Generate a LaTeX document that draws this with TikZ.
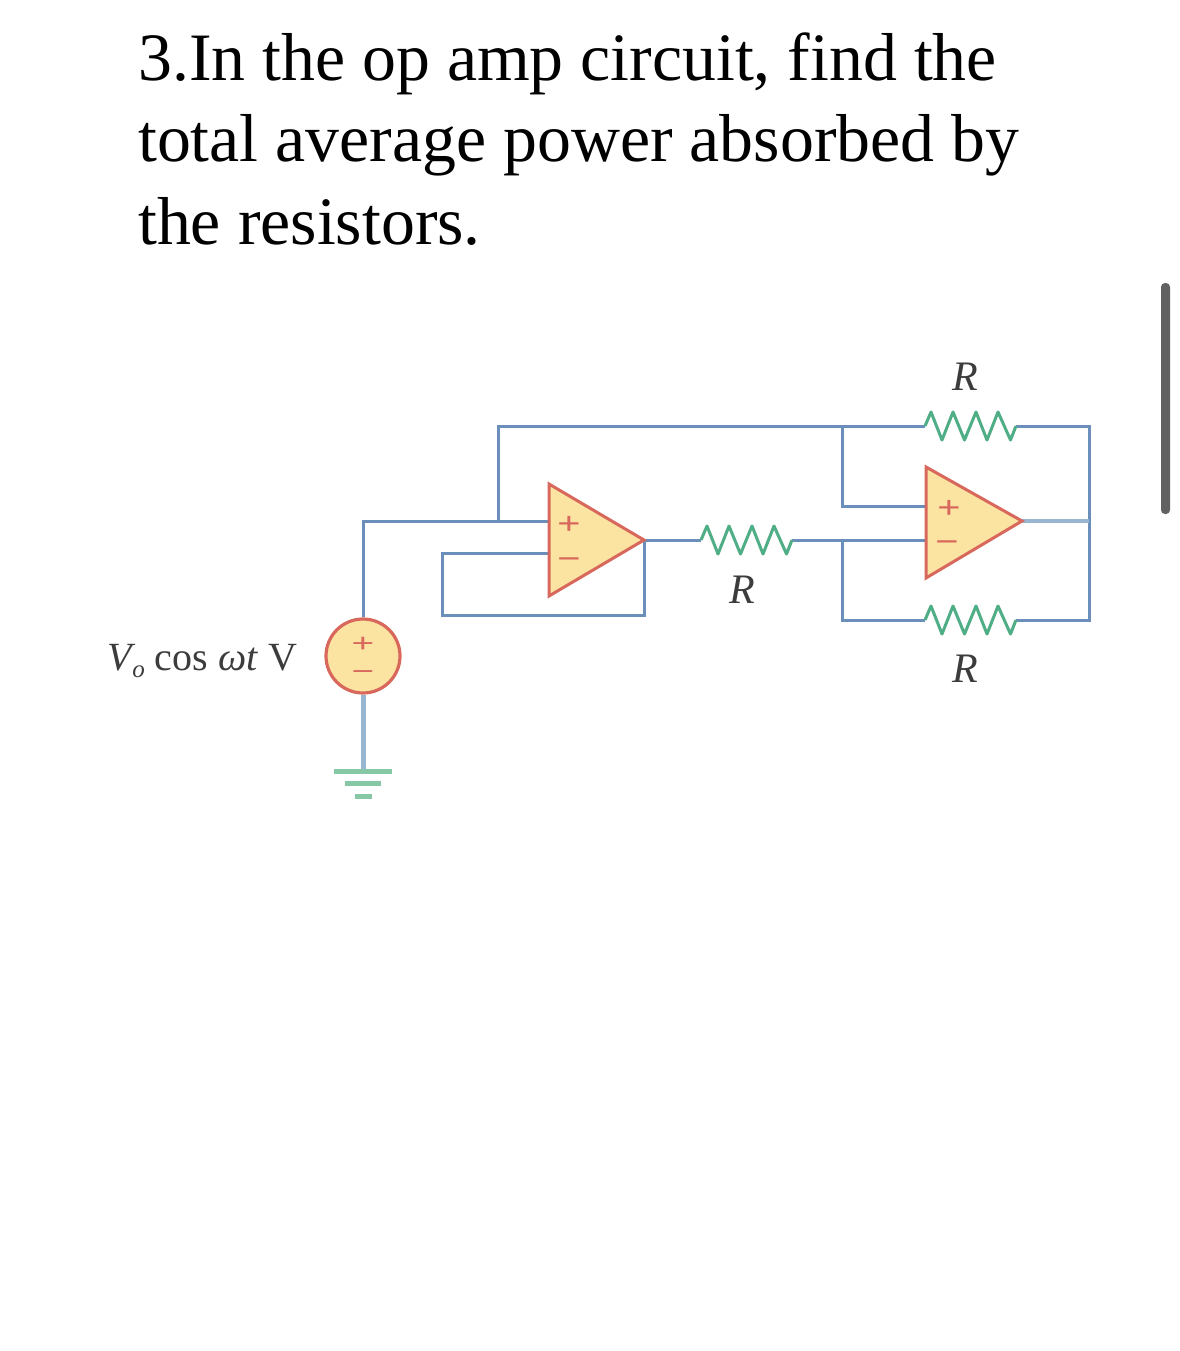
\documentclass[tikz,border=0pt]{standalone}
\usepackage{fontspec}
\setmainfont{Liberation Serif}
\definecolor{wire}{HTML}{6A8FBA}
\definecolor{wirelt}{HTML}{98B5D2}
\definecolor{redl}{HTML}{D9685C}
\definecolor{fillc}{HTML}{FBE3A2}
\definecolor{resc}{HTML}{4FAE85}
\definecolor{gnd}{HTML}{86C8A6}
\definecolor{txt}{HTML}{3C3C3C}
\tikzset{
 wireline/.style={draw=wire,line width=3pt,line join=miter},
 wiresoft/.style={draw=wirelt,line width=5pt},
 amp/.style={draw=redl,fill=fillc,line width=3pt,line join=miter},
 zig/.style={draw=resc,line width=3pt,line join=round},
 gndbar/.style={draw=gnd,line width=5pt},
 title/.style={anchor=base west,inner sep=0pt,font=\fontsize{67.8}{67.8}\selectfont,text=black},
 rlabel/.style={inner sep=0pt,text=txt,font=\fontsize{42}{42}\selectfont\itshape},
 sign/.style={inner sep=0pt,text=redl,font=\fontsize{32}{32}\selectfont\bfseries,xscale=1.3,transform shape},
 signsmall/.style={inner sep=0pt,text=redl,font=\fontsize{27}{27}\selectfont\bfseries,xscale=1.5,transform shape}
}
\newcommand{\zigzag}[2]{%
 \draw[zig] (#1) -- ++(6,-14) -- ++(11,28) -- ++(11,-28) -- ++(11.5,28) -- ++(11.5,-28) -- ++(11,28) -- ++(11,-28) -- ++(12.5,28) -- (#2);}
\begin{document}
\begin{tikzpicture}[x=1pt,y=-1pt]
\useasboundingbox (0,0) rectangle (1179,1351);
\fill[white] (0,0) rectangle (1179,1351);
\node[title] (t1) at (138,81) {3.In the op amp circuit, find the};
\node[title] (t2) at (138,162) {total average power absorbed by};
\node[title] (t3) at (138,244) {the resistors.};
% scroll indicator
\fill[black!62,rounded corners=4pt] (1161,283) rectangle (1170,514);
% coordinates
\coordinate (inA) at (549,521);
\coordinate (inB) at (549,553);
\coordinate (outA) at (644,540);
\coordinate (inC) at (926,506);
\coordinate (inD) at (926,540);
\coordinate (outB) at (1022,521);
\coordinate (r1a) at (925,426);
\coordinate (r1b) at (1016,426);
\coordinate (r2a) at (701,540);
\coordinate (r2b) at (792,540);
\coordinate (r3a) at (925,620);
\coordinate (r3b) at (1016,620);
\coordinate (jIn) at (498,521);
\coordinate (jTop) at (842,426);
\coordinate (jMid) at (842,540);
\coordinate (cTL) at (498,426);
\coordinate (cTR) at (1089,426);
\coordinate (cBR) at (1089,620);
\coordinate (cBL) at (842,620);
\coordinate (jOut) at (1089,521);
\coordinate (cUp) at (842,506);
\coordinate (cIn) at (363,521);
\coordinate (lb1) at (442,553);
\coordinate (lb2) at (442,615);
\coordinate (lb3) at (644,615);
\coordinate (g0) at (363,771);
% source
\node[circle,draw=redl,fill=fillc,line width=3.2pt,minimum size=74pt,inner sep=0pt] (src) at (363,656) {};
% wires
\draw[wiresoft] (src.south) -- (g0);
\draw[wireline] (src.north) -- (cIn) -- (inA);
\draw[wireline] (jIn) -- (cTL) -- (r1a);
\draw[wireline] (r1b) -- (cTR) -- (cBR) -- (r3b);
\draw[wireline] (r3a) -- (cBL) -- (jMid);
\draw[wireline] (jTop) -- (cUp) -- (inC);
\draw[wireline] (outA) -- (r2a);
\draw[wireline] (r2b) -- (inD);
\draw[wiresoft,line width=4pt] (outB) -- (jOut);
\draw[wireline] (inB) -- (lb1) -- (lb2) -- (lb3) -- (outA);
% resistors
\zigzag{r1a}{r1b}
\zigzag{r2a}{r2b}
\zigzag{r3a}{r3b}
% op amps
\draw[amp] (549,484) coordinate (a1) -- (outA) -- (549,596) -- cycle;
\draw[amp] (926,467) coordinate (a2) -- (outB) -- (926,578) -- cycle;
% ground
\draw[gndbar] (334,771) -- (392,771);
\draw[gndbar] (345,783) -- (381,783);
\draw[gndbar] (355,796) -- (372,796);
% signs
\node[sign] (p1) at (569,525.8) {+};
\node[sign] (m1) at (569,563.6) {−};
\node[sign] (p2) at (949,509.8) {+};
\node[sign] (m2) at (947,546.6) {−};
\node[signsmall] (p3) at (363,644.5) {+};
\node[signsmall] (m3) at (363,676) {−};
% labels
\node[rlabel] (R1) at (965,377) {R};
\node[rlabel] (R2) at (742,590) {R};
\node[rlabel] (R3) at (965,669) {R};
\node[anchor=base west,inner sep=0pt,text=txt,font=\fontsize{40}{40}\selectfont] (vs) at (107,670) {\textit{V}\kern-3pt\raisebox{-7pt}{\fontsize{25}{25}\selectfont\textit{o}} cos \textit{ωt} V};
\end{tikzpicture}
\end{document}
